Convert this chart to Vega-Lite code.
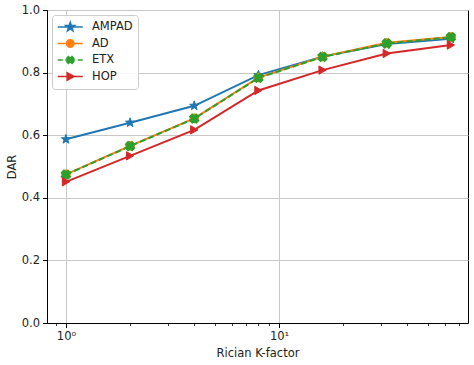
{
  "$schema": "https://vega.github.io/schema/vega-lite/v6.json",
  "width": 421,
  "height": 313,
  "autosize": {"type": "none"},
  "padding": {"left": 47, "top": 10, "right": 6, "bottom": 42},
  "background": "white",
  "config": {
    "font": "DejaVu Sans",
    "view": {"stroke": "black", "strokeWidth": 1},
    "axis": {
      "labelFont": "DejaVu Sans",
      "titleFont": "DejaVu Sans",
      "labelFontSize": 11.5,
      "titleFontSize": 11.5,
      "titleFontWeight": "normal",
      "labelColor": "#222",
      "titleColor": "#222",
      "domainColor": "black",
      "tickColor": "black",
      "gridColor": "#c8c8c8",
      "gridWidth": 1
    }
  },
  "data": {
    "values": [
      {"k": 1, "series": "AMPAD", "dar": 0.587},
      {"k": 2, "series": "AMPAD", "dar": 0.640},
      {"k": 4, "series": "AMPAD", "dar": 0.694},
      {"k": 8, "series": "AMPAD", "dar": 0.792},
      {"k": 16, "series": "AMPAD", "dar": 0.851},
      {"k": 32, "series": "AMPAD", "dar": 0.891},
      {"k": 64, "series": "AMPAD", "dar": 0.908},
      {"k": 1, "series": "AD", "dar": 0.475},
      {"k": 2, "series": "AD", "dar": 0.566},
      {"k": 4, "series": "AD", "dar": 0.654},
      {"k": 8, "series": "AD", "dar": 0.784},
      {"k": 16, "series": "AD", "dar": 0.851},
      {"k": 32, "series": "AD", "dar": 0.895},
      {"k": 64, "series": "AD", "dar": 0.914},
      {"k": 1, "series": "ETX", "dar": 0.474},
      {"k": 2, "series": "ETX", "dar": 0.565},
      {"k": 4, "series": "ETX", "dar": 0.653},
      {"k": 8, "series": "ETX", "dar": 0.783},
      {"k": 16, "series": "ETX", "dar": 0.850},
      {"k": 32, "series": "ETX", "dar": 0.893},
      {"k": 64, "series": "ETX", "dar": 0.913},
      {"k": 1, "series": "HOP", "dar": 0.451},
      {"k": 2, "series": "HOP", "dar": 0.534},
      {"k": 4, "series": "HOP", "dar": 0.617},
      {"k": 8, "series": "HOP", "dar": 0.743},
      {"k": 16, "series": "HOP", "dar": 0.808},
      {"k": 32, "series": "HOP", "dar": 0.861},
      {"k": 64, "series": "HOP", "dar": 0.888}
    ]
  },
  "encoding": {
    "y": {
      "field": "dar",
      "type": "quantitative",
      "scale": {"domain": [0, 1], "nice": false, "zero": false},
      "axis": {
        "title": "DAR",
        "values": [0, 0.2, 0.4, 0.6, 0.8, 1.0],
        "format": ".1f",
        "grid": true,
        "tickSize": 4.5,
        "labelPadding": 3,
        "titlePadding": 4
      }
    }
  },
  "layer": [
    {
      "transform": [{"filter": "datum.series == 'AMPAD'"}],
      "mark": {"type": "line", "color": "#1f77b4", "strokeWidth": 2},
      "encoding": {
        "x": {
          "field": "k",
          "type": "quantitative",
          "scale": {"type": "log", "domain": [0.815, 77], "nice": false},
          "axis": {
            "orient": "bottom",
            "title": "Rician K-factor",
            "values": [1, 10],
            "labelExpr": "datum.value == 1 ? '10⁰' : '10¹'",
            "grid": true,
            "tickSize": 4.5,
            "labelPadding": 3,
            "titlePadding": 5
          }
        }
      }
    },
    {
      "transform": [{"filter": "datum.series == 'AMPAD'"}],
      "mark": {"type": "point", "filled": true, "color": "#1f77b4", "stroke": "#1f77b4", "strokeWidth": 1, "opacity": 1, "size": 95,
        "shape": "M0,-1L0.235,-0.324L0.951,-0.309L0.38,0.124L0.588,0.809L0,0.4L-0.588,0.809L-0.38,0.124L-0.951,-0.309L-0.235,-0.324Z"},
      "encoding": {
        "x": {
          "field": "k",
          "type": "quantitative",
          "scale": {"type": "log", "domain": [0.815, 77], "nice": false},
          "axis": {
            "orient": "bottom",
            "title": null,
            "values": [0.9, 2, 3, 4, 5, 6, 7, 8, 9, 20, 30, 40, 50, 60, 70],
            "labels": false,
            "grid": false,
            "domain": false,
            "tickSize": 2.5,
            "tickWidth": 0.8
          }
        }
      }
    },
    {
      "transform": [{"filter": "datum.series == 'AD'"}],
      "mark": {"type": "line", "color": "#ff7f0e", "strokeWidth": 2},
      "encoding": {
        "x": {"field": "k", "type": "quantitative", "scale": {"type": "log", "domain": [0.815, 77], "nice": false}, "axis": null}
      }
    },
    {
      "transform": [{"filter": "datum.series == 'AD'"}],
      "mark": {"type": "point", "filled": true, "color": "#ff7f0e", "stroke": "#ff7f0e", "strokeWidth": 1, "opacity": 1, "size": 75, "shape": "circle"},
      "encoding": {
        "x": {"field": "k", "type": "quantitative", "scale": {"type": "log", "domain": [0.815, 77], "nice": false}, "axis": null}
      }
    },
    {
      "transform": [{"filter": "datum.series == 'ETX'"}],
      "mark": {"type": "line", "color": "#2ca02c", "strokeWidth": 2, "strokeDash": [6, 3]},
      "encoding": {
        "x": {"field": "k", "type": "quantitative", "scale": {"type": "log", "domain": [0.815, 77], "nice": false}, "axis": null}
      }
    },
    {
      "transform": [{"filter": "datum.series == 'ETX'"}],
      "mark": {"type": "point", "filled": true, "color": "#2ca02c", "stroke": "#2ca02c", "strokeWidth": 1, "opacity": 1, "size": 90, "shape": "cross", "angle": 45},
      "encoding": {
        "x": {"field": "k", "type": "quantitative", "scale": {"type": "log", "domain": [0.815, 77], "nice": false}, "axis": null}
      }
    },
    {
      "transform": [{"filter": "datum.series == 'HOP'"}],
      "mark": {"type": "line", "color": "#d62728", "strokeWidth": 2},
      "encoding": {
        "x": {"field": "k", "type": "quantitative", "scale": {"type": "log", "domain": [0.815, 77], "nice": false}, "axis": null}
      }
    },
    {
      "transform": [{"filter": "datum.series == 'HOP'"}],
      "mark": {"type": "point", "filled": true, "color": "#d62728", "stroke": "#d62728", "strokeWidth": 1, "opacity": 1, "size": 70, "shape": "triangle-right"},
      "encoding": {
        "x": {"field": "k", "type": "quantitative", "scale": {"type": "log", "domain": [0.815, 77], "nice": false}, "axis": null}
      }
    },
    {
      "transform": [{"filter": "datum.series == 'none'"}],
      "mark": {"type": "point", "filled": true, "opacity": 1, "size": 156, "strokeWidth": 1.5},
      "encoding": {
        "x": {"field": "k", "type": "quantitative", "scale": {"type": "log", "domain": [0.815, 77], "nice": false}, "axis": null},
        "fill": {
          "field": "series",
          "type": "nominal",
          "scale": {"domain": ["AMPAD", "AD", "ETX", "HOP"], "range": ["#1f77b4", "#ff7f0e", "#2ca02c", "#d62728"]},
          "legend": {
            "title": null,
            "orient": "top-left",
            "offset": 5,
            "padding": 5,
            "strokeColor": "#cccccc",
            "fillColor": "rgba(255,255,255,0.85)",
            "cornerRadius": 3,
            "symbolSize": 156,
            "symbolStrokeWidth": 1.5,
            "symbolOpacity": 1,
            "labelFont": "DejaVu Sans",
            "labelFontSize": 11.5,
            "labelColor": "#222",
            "labelOffset": 21,
            "rowPadding": 2.5
          }
        },
        "stroke": {
          "field": "series",
          "type": "nominal",
          "scale": {"domain": ["AMPAD", "AD", "ETX", "HOP"], "range": ["#1f77b4", "#ff7f0e", "#2ca02c", "#d62728"]}
        },
        "shape": {
          "field": "series",
          "type": "nominal",
          "scale": {
            "domain": ["AMPAD", "AD", "ETX", "HOP"],
            "range": [
              "M-1,0H3M1,-0.75L1.176,-0.243L1.713,-0.232L1.285,0.093L1.441,0.607L1,0.3L0.559,0.607L0.715,0.093L0.287,-0.232L0.824,-0.243Z",
              "M-1,0H3M1.6,0A0.6,0.6 0 1,1 0.4,0A0.6,0.6 0 1,1 1.6,0Z",
              "M-1,0H-0.2M0.2,0H1.8M2.2,0H3M1.566,-0.283L1.283,0L1.566,0.283L1.283,0.566L1,0.283L0.717,0.566L0.434,0.283L0.717,0L0.434,-0.283L0.717,-0.566L1,-0.283L1.283,-0.566Z",
              "M-1,0H3M1.6,0L0.5,-0.6L0.5,0.6Z"
            ]
          }
        }
      }
    }
  ],
  "resolve": {"axis": {"x": "independent"}}
}
